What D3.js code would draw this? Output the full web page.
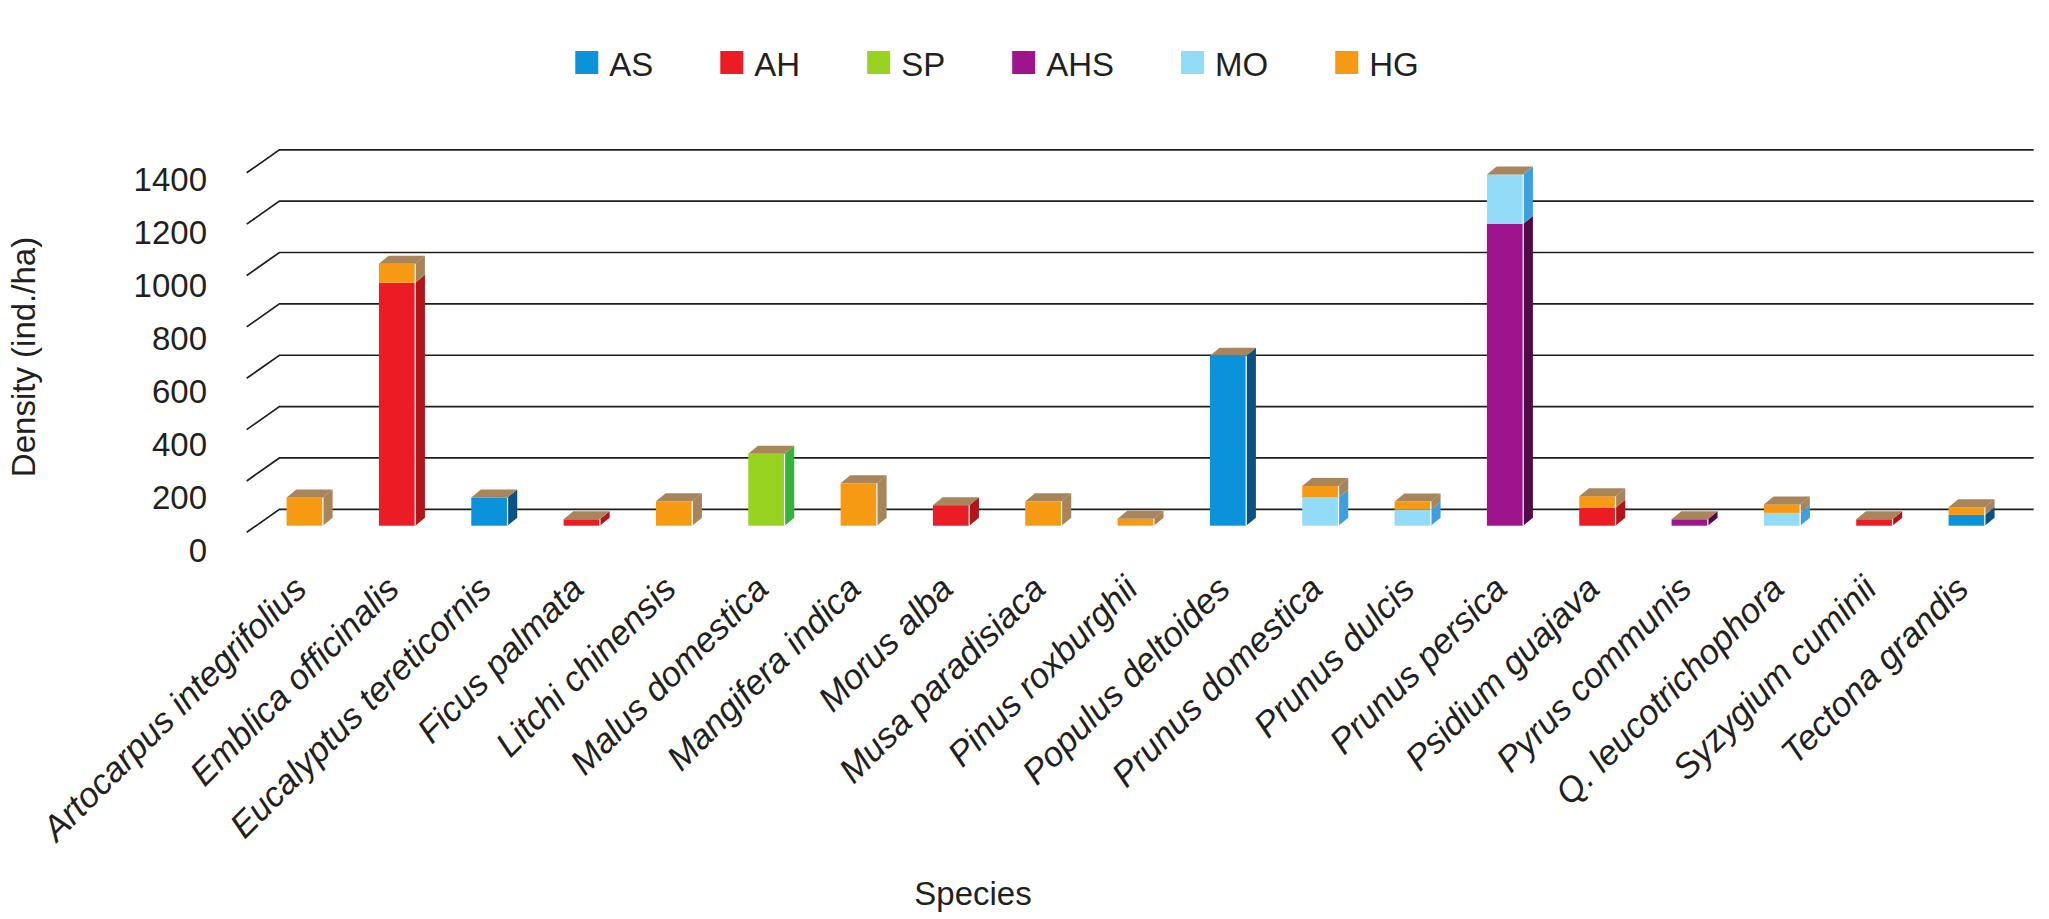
<!DOCTYPE html>
<html>
<head>
<meta charset="utf-8">
<script src="https://cdn.jsdelivr.net/npm/d3@7/dist/d3.min.js"></script>
<style>
  body { margin: 0; background: #fff; }
  text { font-family: "Liberation Sans", Arial, sans-serif; fill: #231f20; }
</style>
</head>
<body>
<svg id="chart" width="2049" height="919"></svg>
<script>
// categories
const species = [
  'Artocarpus integrifolius', 'Emblica officinalis', 'Eucalyptus tereticornis',
  'Ficus palmata', 'Litchi chinensis', 'Malus domestica', 'Mangifera indica',
  'Morus alba', 'Musa paradisiaca', 'Pinus roxburghii', 'Populus deltoides',
  'Prunus domestica', 'Prunus dulcis', 'Prunus persica', 'Psidium guajava',
  'Pyrus communis', 'Q. leucotrichophora', 'Syzygium cuminii', 'Tectona grandis'
];

// series, stacked bottom to top in this order
const groups = ['AS', 'AH', 'SP', 'AHS', 'MO', 'HG'];

const asValues  = [0, 0, 110, 0, 0, 0, 0, 0, 0, 0, 662, 0, 0, 0, 0, 0, 0, 0, 42];
const ahValues  = [0, 946, 0, 25, 0, 0, 0, 80, 0, 0, 0, 0, 0, 0, 70, 0, 0, 25, 0];
const spValues  = [0, 0, 0, 0, 0, 280, 0, 0, 0, 0, 0, 0, 0, 0, 0, 0, 0, 0, 0];
const ahsValues = [0, 0, 0, 0, 0, 0, 0, 0, 0, 0, 0, 0, 0, 1175, 0, 25, 0, 0, 0];
const moValues  = [0, 0, 0, 0, 0, 0, 0, 0, 0, 0, 0, 110, 62, 193, 0, 0, 50, 0, 0];
const hgValues  = [110, 74, 0, 0, 95, 0, 165, 0, 95, 27, 0, 45, 32, 0, 45, 0, 33, 0, 30];

const yTicks = [0, 200, 400, 600, 800, 1000, 1200, 1400];

// front face / side face colours per series
const frontColors = { AS: '#0a93da', AH: '#ec1c24', SP: '#98d321', AHS: '#9d148c', MO: '#93dcf7', HG: '#f79a13' };
const sideColors  = { AS: '#0a5283', AH: '#b0151b', SP: '#34b33b', AHS: '#510a45', MO: '#3d9fdf', HG: '#a7845a' };
const topColor = '#a8855b';

const svg = d3.select('#chart');
svg.append('rect').attr('width', 2049).attr('height', 919).attr('fill', '#fff');

// the oblique 3d floor: front edge and the depth vector back to the wall
const floorLeft = 246.7, floorRight = 2001;
const depthX = 32.7, depthY = -23;

const x = d3.scaleBand().domain(species).range([floorLeft, floorRight]);
const y = d3.scaleLinear().domain([0, 1400]).range([532.3, 172.8]);
// excel spaces the tick labels a little wider than the grid
const yLabel = d3.scaleLinear().domain([0, 1400]).range([550, 179.2]);

// bar geometry inside a band
const barW = 36.3;
const barFrontX = 9.4, barFrontY = -6.6;   // bar front sits a bit behind the floor edge
const barOffset = 30.5;
const sideX = 9.7, sideY = -8;

// gridlines: a short diagonal on the side wall then the line on the back wall
const grid = svg.append('g');
yTicks.forEach(t => {
  const y0 = y(t);
  grid.append('path')
    .attr('d', `M${floorLeft},${y0}L${floorLeft + depthX},${y0 + depthY}L${floorRight + depthX},${y0 + depthY}`)
    .attr('fill', 'none')
    .attr('stroke', '#1e1e1e')
    .attr('stroke-width', 1.7);
});

// tick labels
svg.append('g').selectAll('text')
  .data(yTicks)
  .enter().append('text')
    .attr('x', 207)
    .attr('y', d => yLabel(d))
    .attr('dy', '0.36em')
    .attr('text-anchor', 'end')
    .attr('font-size', 33)
    .text(d => d);

// stacked data
const table = species.map((s, i) => ({
  species: s,
  AS: asValues[i], AH: ahValues[i], SP: spValues[i],
  AHS: ahsValues[i], MO: moValues[i], HG: hgValues[i]
}));
const stacked = d3.stack().keys(groups)(table);

const barX = s => x(s) + barFrontX + barOffset;
const barY = v => y(v) + barFrontY;

const bars = svg.append('g');
stacked.forEach(layer => {
  const key = layer.key;
  layer.forEach(d => {
    if (d[1] - d[0] <= 0) return;
    const bx = barX(d.data.species);
    const yt = barY(d[1]), yb = barY(d[0]);

    bars.append('rect')
      .attr('x', bx).attr('y', yt)
      .attr('width', barW).attr('height', yb - yt)
      .attr('fill', frontColors[key]);

    bars.append('path')
      .attr('d', `M${bx + barW},${yt}L${bx + barW + sideX},${yt + sideY}L${bx + barW + sideX},${yb + sideY}L${bx + barW},${yb}Z`)
      .attr('fill', sideColors[key]);

    // thin white seam between front and side
    bars.append('line')
      .attr('x1', bx + barW).attr('x2', bx + barW)
      .attr('y1', yt).attr('y2', yb)
      .attr('stroke', '#fff')
      .attr('stroke-width', 1.2);
  });
});

// top faces on the top of each stack
table.forEach(row => {
  const total = d3.sum(groups, g => row[g]);
  if (total <= 0) return;
  const bx = barX(row.species);
  const yt = barY(total);
  bars.append('path')
    .attr('d', `M${bx},${yt}L${bx + sideX},${yt + sideY}L${bx + barW + sideX},${yt + sideY}L${bx + barW},${yt}Z`)
    .attr('fill', topColor);
});

// category labels, slanted
svg.append('g').selectAll('text')
  .data(species)
  .enter().append('text')
    .attr('transform', d => `translate(${barX(d) + barW / 2 + 4},591) rotate(-45)`)
    .attr('text-anchor', 'end')
    .attr('font-size', 35)
    .attr('font-style', 'italic')
    .text(d => d);

// axis titles
svg.append('text')
  .attr('transform', 'translate(35,357) rotate(-90)')
  .attr('text-anchor', 'middle')
  .attr('font-size', 33)
  .text('Density (ind./ha)');

svg.append('text')
  .attr('x', 973)
  .attr('y', 905)
  .attr('text-anchor', 'middle')
  .attr('font-size', 33)
  .text('Species');

// legend, laid out from the text widths and centred
const legend = svg.append('g');
const items = groups.map(g => {
  const item = legend.append('g');
  item.append('rect')
    .attr('y', 51).attr('width', 23).attr('height', 23)
    .attr('fill', frontColors[g]);
  const label = item.append('text')
    .attr('x', 34).attr('y', 76)
    .attr('font-size', 33)
    .text(g);
  return { item, w: 34 + label.node().getComputedTextLength() };
});
const pad = 67;
const legendWidth = d3.sum(items, d => d.w) + pad * (items.length - 1);
let lx = 997 - legendWidth / 2;
items.forEach(d => {
  d.item.attr('transform', `translate(${lx},0)`);
  lx += d.w + pad;
});
</script>
</body>
</html>
